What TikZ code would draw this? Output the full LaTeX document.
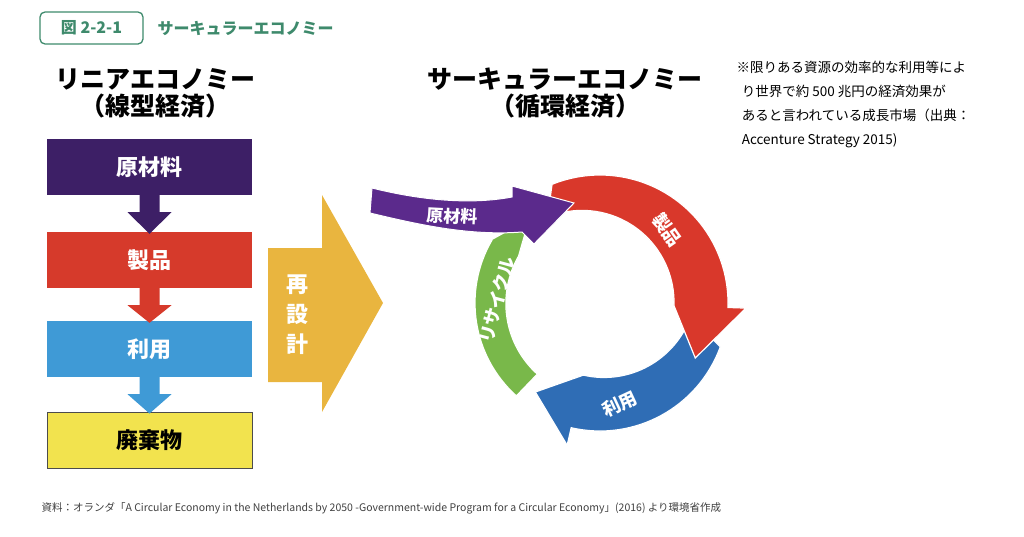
\documentclass[tikz,border=0pt]{standalone}
\usepackage{fontspec}
\setmainfont{Noto Sans CJK JP}
\definecolor{gtxt}{HTML}{3E8A6C}
\definecolor{pbox}{HTML}{3D1F66}
\definecolor{rbox}{HTML}{D63A2B}
\definecolor{bbox}{HTML}{3F9AD6}
\definecolor{ybox}{HTML}{F2E34E}
\definecolor{obox}{HTML}{E9B53F}
\definecolor{rring}{HTML}{D9382B}
\definecolor{bring}{HTML}{2F6DB5}
\definecolor{gring}{HTML}{79B84A}
\definecolor{parr}{HTML}{5B2A8C}
\newcommand{\ringarrow}[7]{%
 \fill[#1,draw=white,line width=1.2pt] (#2:#5+#7) arc[start angle=#2,end angle=#3,radius=#5+#7] -- (#3:#5+#7+#6) -- (#4:#5) -- (#3:#5-#7-#6) arc[start angle=#3,end angle=#2,radius=#5-#7] -- cycle;}
\begin{document}
\begin{tikzpicture}[x=1pt,y=-1pt,
 lbox/.style={minimum width=205pt,minimum height=56pt,inner sep=0pt,font=\bfseries\fontsize{22}{22}\selectfont,text=white},
 head/.style={font=\bfseries\fontsize{25}{27}\selectfont,align=center},
 ring/.style={text=white,font=\bfseries\fontsize{18}{18}\selectfont}]
\useasboundingbox (0,0) rectangle (1024,536);
% header
\node[draw=gtxt,line width=1.3pt,rounded corners=5pt,minimum width=103pt,minimum height=32pt,text=gtxt,font=\bfseries\fontsize{16}{16}\selectfont] (fig) at (91.5,28) {図 2-2-1};
\node[anchor=west,text=gtxt,font=\bfseries\fontsize{16}{16}\selectfont] (ttl) at (154,28) {サーキュラーエコノミー};
\node[head] (lh) at (155,93) {リニアエコノミー\\（線型経済）};
\node[head] (ch) at (565,93) {サーキュラーエコノミー\\（循環経済）};
\node[anchor=north west,align=left,font=\fontsize{13.5}{24}\selectfont] (note) at (733,58) {※限りある資源の効率的な利用等によ\\\ \,り世界で約 500 兆円の経済効果が\\\ \,あると言われている成長市場（出典：\\\ \,Accenture Strategy 2015)};
% linear boxes
\node[lbox,fill=pbox] (b1) at (149.5,167) {原材料};
\node[lbox,fill=rbox] (b2) at (149.5,260) {製品};
\node[lbox,fill=bbox] (b3) at (149.5,349) {利用};
\node[lbox,fill=ybox,draw=black!70,line width=1pt,text=black] (b4) at (149.5,440) {廃棄物};
\foreach \a/\b/\c in {b1/b2/pbox,b2/b3/rbox,b3/b4/bbox}{
 \fill[\c] ([xshift=-10pt]\a.south) -- ([xshift=10pt]\a.south) -- ([xshift=10pt,yshift=-17pt]\a.south) -- ([xshift=22pt,yshift=-17pt]\a.south) -- ([yshift=-2pt]\b.north) -- ([xshift=-22pt,yshift=-17pt]\a.south) -- ([xshift=-10pt,yshift=-17pt]\a.south) -- cycle;}
% redesign arrow
\fill[obox] (268,248) -- (322,248) -- (322,195) -- (383,303) -- (322,412) -- (322,382) -- (268,382) -- cycle;
\node[text=white,align=center,font=\bfseries\fontsize{22}{30}\selectfont] (rd) at (297,315) {再\\設\\計};
% ring
\begin{scope}[shift={(600,303)}]
\ringarrow{gring}{-228}{-150}{-130}{110}{1}{15}
\ringarrow{bring}{20}{103}{126}{110}{18}{18}
\ringarrow{rring}{-112}{2}{30}{110}{18}{18}
\end{scope}
\node[ring,rotate=75] (rc) at (497,300) {リサイクル};
\node[ring,rotate=25] (us) at (620,404) {利用};
\node[ring,rotate=-55] (pr) at (667,230) {製品};
% purple arrow
\fill[parr,draw=white,line width=1pt] (372,188) .. controls (420,200) and (470,205) .. (512,197) -- (512,186) -- (574,203) -- (534,244) -- (522,232) .. controls (470,236) and (420,225) .. (370,213) -- cycle;
\node[text=white,rotate=-3,font=\bfseries\fontsize{17}{17}\selectfont] (raw) at (452,216) {原材料};
% footer
\node[anchor=west,text=black!75,font=\fontsize{10.5}{11}\selectfont] (src) at (38,508) {資料：オランダ「A Circular Economy in the Netherlands by 2050 -Government-wide Program for a Circular Economy」(2016) より環境省作成};
\end{tikzpicture}
\end{document}
